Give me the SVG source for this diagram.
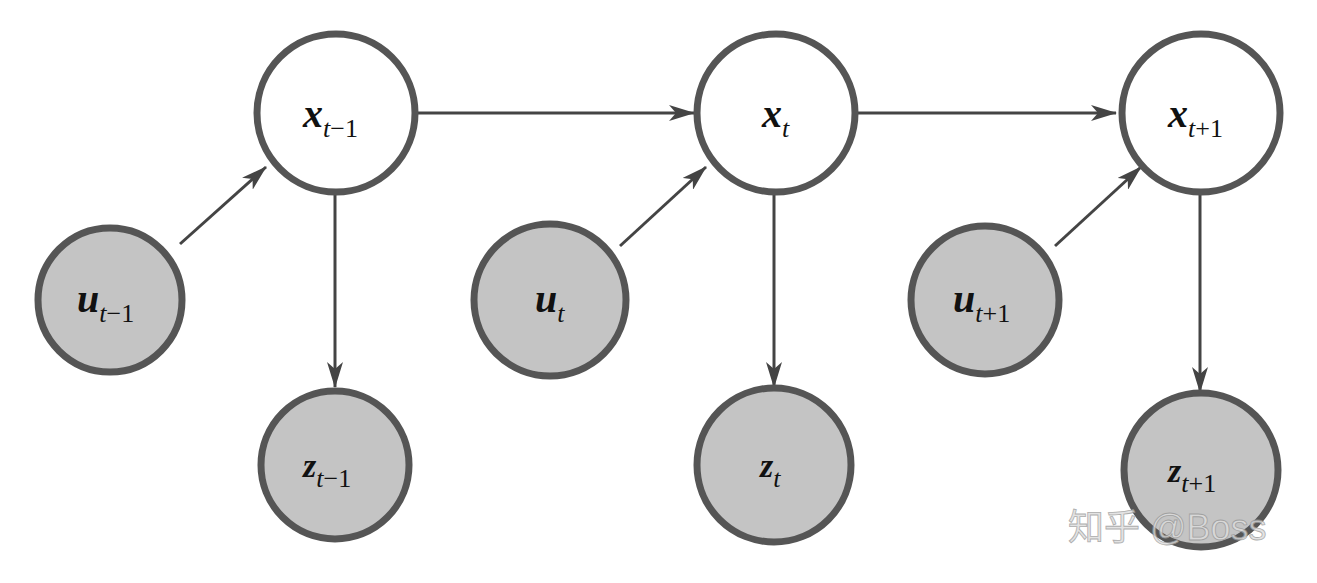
<svg xmlns="http://www.w3.org/2000/svg" width="1317" height="583" viewBox="0 0 1317 583">
<style>
.n{stroke:#555;stroke-width:7}
.w{fill:#fff}
.g{fill:#c4c4c4}
.c{stroke:#444;stroke-width:3;fill:none}
.t{font-family:'Liberation Serif','DejaVu Serif',serif;font-style:italic;fill:#111;font-size:40px;font-weight:bold}
.s{font-size:26px;font-style:normal;font-weight:normal}
.si{font-size:26px;font-weight:normal}
</style>
<defs>
<marker id="A" markerWidth="26" markerHeight="16" refX="25" refY="8" orient="auto" markerUnits="userSpaceOnUse"><path d="M0,0L26,8L0,16L7,8z" fill="#444"/></marker></defs>
<rect width="1317" height="583" fill="#fff"/>
<g id="connectors">
<line class="c" x1="418" y1="113" x2="694" y2="113" marker-end="url(#A)"/>
<line class="c" x1="857" y1="113" x2="1116" y2="113" marker-end="url(#A)"/>
<line class="c" x1="180" y1="244" x2="266" y2="167" marker-end="url(#A)"/>
<line class="c" x1="620" y1="246" x2="706" y2="167" marker-end="url(#A)"/>
<line class="c" x1="1055" y1="246" x2="1141" y2="167" marker-end="url(#A)"/>
<line class="c" x1="335" y1="195" x2="335" y2="387" marker-end="url(#A)"/>
<line class="c" x1="774" y1="195" x2="774" y2="387" marker-end="url(#A)"/>
<line class="c" x1="1200" y1="195" x2="1200" y2="392" marker-end="url(#A)"/>
</g>
<g id="x_tm1"><circle class="n w" cx="336" cy="113" r="79"/><text class="t" x="303" y="127">x<tspan class="si" dy="10">t</tspan><tspan class="s">−1</tspan></text></g>
<g id="x_t"><circle class="n w" cx="776" cy="113" r="79"/><text class="t" x="762" y="127">x<tspan class="si" dy="10">t</tspan></text></g>
<g id="x_tp1"><circle class="n w" cx="1201" cy="113" r="79"/><text class="t" x="1168" y="127">x<tspan class="si" dy="10">t</tspan><tspan class="s">+1</tspan></text></g>
<g id="u_tm1"><circle class="n g" cx="110" cy="300" r="72"/><text class="t" x="77" y="312">u<tspan class="si" dy="10">t</tspan><tspan class="s">−1</tspan></text></g>
<g id="u_t"><circle class="n g" cx="550" cy="300" r="76"/><text class="t" x="535" y="312">u<tspan class="si" dy="10">t</tspan></text></g>
<g id="u_tp1"><circle class="n g" cx="985" cy="300" r="74"/><text class="t" x="953" y="312">u<tspan class="si" dy="10">t</tspan><tspan class="s">+1</tspan></text></g>
<g id="z_tm1"><circle class="n g" cx="335" cy="465" r="74"/><text class="t" x="303" y="477" style="font-size:34px">z<tspan class="si" dy="10">t</tspan><tspan class="s">−1</tspan></text></g>
<g id="z_t"><circle class="n g" cx="774" cy="465" r="77"/><text class="t" x="760" y="477" style="font-size:34px">z<tspan class="si" dy="10">t</tspan></text></g>
<g id="z_tp1"><circle class="n g" cx="1201" cy="470" r="77"/><text class="t" x="1168" y="482" style="font-size:34px">z<tspan class="si" dy="10">t</tspan><tspan class="s">+1</tspan></text></g>
<text x="1068" y="540" style="font-family:'Liberation Sans','Noto Sans CJK SC',sans-serif;font-size:36px;fill:#ddd;stroke:#999;stroke-width:0.8;opacity:0.8">知乎 @Boss</text>
</svg>
